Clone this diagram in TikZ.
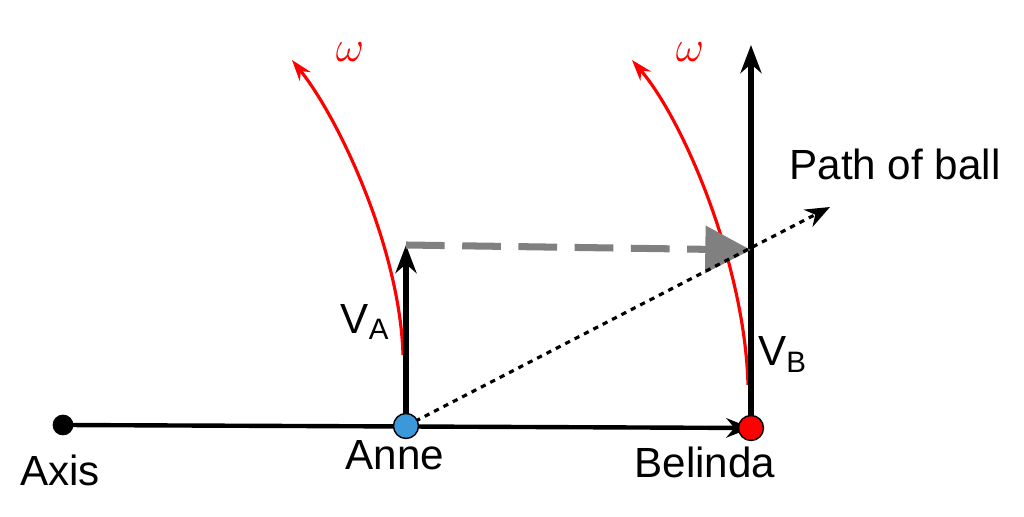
\documentclass[tikz,border=0pt]{standalone}
\usepackage{fontspec}
\setmainfont{Liberation Sans}
\usetikzlibrary{arrows.meta}
\begin{document}
\begin{tikzpicture}[font=\fontsize{24}{28}\selectfont,
    vel/.style={line width=3pt,-{Stealth[length=16pt,width=12pt]}},
    spin/.style={red,line width=1.8pt,-{Stealth[length=12pt,width=8pt]}}]
                \useasboundingbox (0,0) rectangle (20.48,10.34);
                \coordinate (axis) at (1.26,1.84);
                \coordinate (anne) at (8.12,1.82);
                \coordinate (bel) at (15.02,1.78);
                \coordinate (vatip) at (8.12,5.44);
                \coordinate (vbtip) at (15.02,9.44);
                \coordinate (pathend) at (16.6,6.2);
                % rotation arcs
                \draw[spin] (8.06,3.24) .. controls (8.0,5.34) and (6.8,7.94) .. (5.84,9.14);
                \draw[spin] (14.96,2.64) .. controls (14.9,5.0) and (13.7,7.9) .. (12.64,9.14);
                \node[red] (wa) at (7.0,9.3) {$\omega$};
                \node[red] (wb) at (13.8,9.3) {$\omega$};
                % velocities
                \draw[vel] (anne) -- (vatip);
                \draw[vel] (bel) -- (vbtip);
                \draw[gray,line width=4pt,dash pattern=on 22pt off 10pt,-{Triangle[length=26pt,width=26pt]}] (vatip) -- (15.02,5.34);
                \draw[dashed,line width=1.8pt,-{Stealth[length=14pt,width=11pt]}] (anne) -- (pathend);
                \draw[line width=2.5pt,-{Stealth[length=14pt,width=11pt]}] (axis) -- (bel);
                \filldraw[black] (axis) circle (0.2);
                \filldraw[fill=cyan!70!blue!80,draw=black,thick] (anne) circle (0.25);
                \filldraw[fill=red,draw=black,thick] (bel) circle (0.25);
                % labels
                \node (la) at (7.3,3.9) {V$_\mathrm{A}$};
                \node (lb) at (15.65,3.25) {V$_\mathrm{B}$};
                \node (lax) at (1.2,0.94) {Axis};
                \node (lan) at (7.9,1.24) {Anne};
                \node (lbe) at (14.1,1.1) {Belinda};
                \node (lp) at (17.9,7.05) {Path of ball};
            \end{tikzpicture}
\end{document}
